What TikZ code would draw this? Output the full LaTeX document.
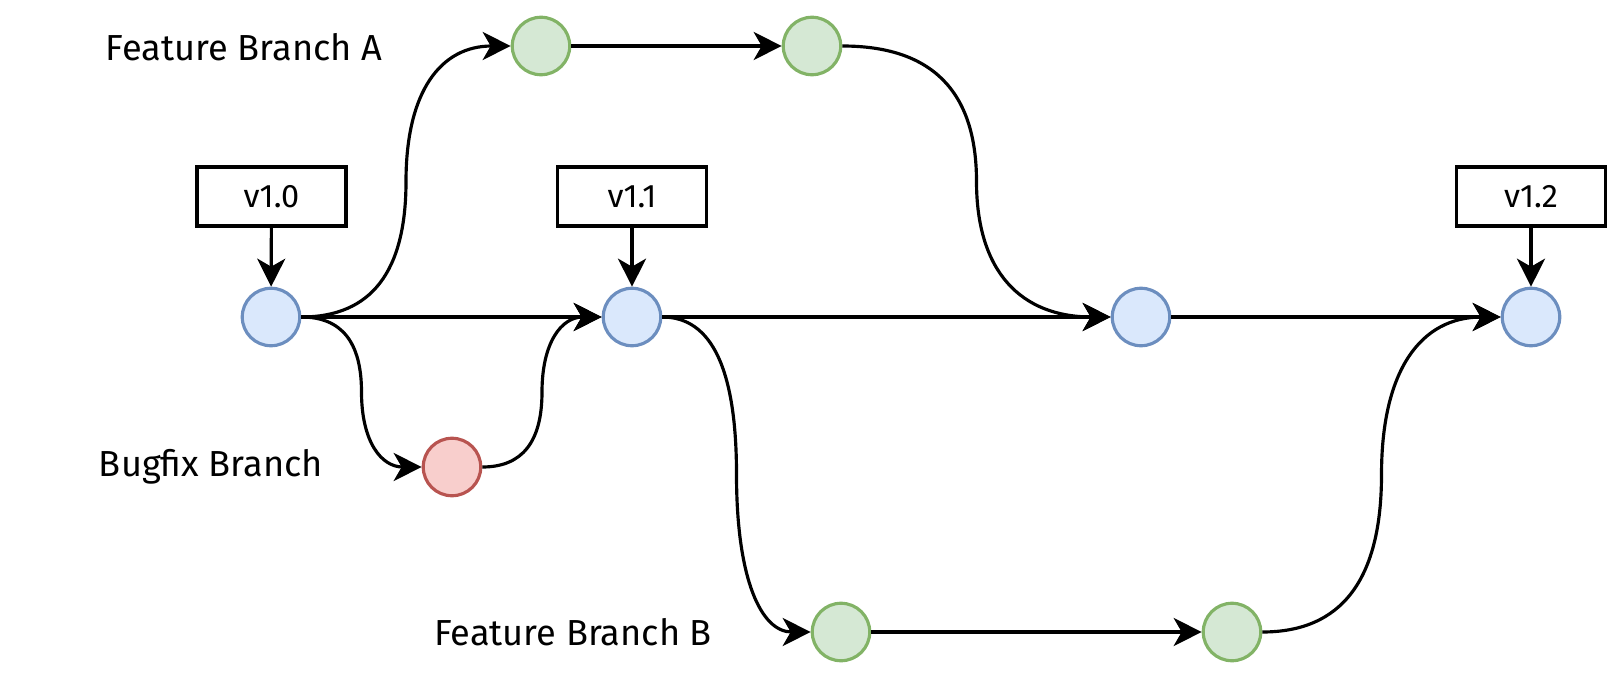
\documentclass[tikz,border=0pt]{standalone}
\usepackage{fontspec}
\setmainfont{Fira Sans}
\usetikzlibrary{arrows.meta,calc}

\definecolor{bluefill}{HTML}{DAE8FC}
\definecolor{blueline}{HTML}{6C8EBF}
\definecolor{greenfill}{HTML}{D5E8D4}
\definecolor{greenline}{HTML}{82B366}
\definecolor{redfill}{HTML}{F8CECC}
\definecolor{redline}{HTML}{B85450}

\tikzset{
  commit/.style={circle, line width=1.8pt, minimum size=1.15cm, inner sep=0pt},
  maincommit/.style={commit, draw=blueline, fill=bluefill},
  featcommit/.style={commit, draw=greenline, fill=greenfill},
  fixcommit/.style={commit, draw=redline, fill=redfill},
  tag/.style={draw, line width=1.8pt, minimum width=2.98cm, minimum height=1.18cm, font=\fontsize{18.5}{22}\selectfont},
  branchlabel/.style={font=\fontsize{20.6}{24}\selectfont},
  flow/.style={line width=1.8pt, -{Stealth[length=0.56cm, width=0.56cm, inset=0.16cm]}}
}

\newcommand{\branchcurve}[2]{%
  \coordinate (bend) at ($(#1.east)!0.5!(#2.west)$);
  \coordinate (k1) at (bend |- #1.east);
  \coordinate (k2) at (bend |- #2.west);
  \draw[flow] (#1.east) .. controls ($(#1.east)!0.667!(k1)$) and ($(bend)!0.667!(k1)$) .. (bend)
    .. controls ($(bend)!0.667!(k2)$) and ($(#2.west)!0.667!(k2)$) .. (#2.west);}

\begin{document}
\begin{tikzpicture}
\useasboundingbox (0,0) rectangle (32.16,13.56);

\node[maincommit] (c10) at (5.42,7.22) {};
\node[maincommit] (c11) at (12.64,7.22) {};
\node[maincommit] (m1) at (22.82,7.22) {};
\node[maincommit] (c12) at (30.62,7.22) {};
\node[featcommit] (a1) at (10.82,12.64) {};
\node[featcommit] (a2) at (16.24,12.64) {};
\node[fixcommit] (fix) at (9.04,4.22) {};
\node[featcommit] (b1) at (16.82,0.92) {};
\node[featcommit] (b2) at (24.64,0.92) {};

\node[tag] (t10) at (5.43,9.63) {v1.0};
\node[tag] (t11) at (12.64,9.63) {v1.1};
\node[tag] (t12) at (30.62,9.63) {v1.2};

\node[branchlabel] (la) at (4.88,12.62) {Feature Branch A};
\node[branchlabel] (lfix) at (4.22,4.22) {Bugfix Branch};
\node[branchlabel] (lb) at (11.46,0.92) {Feature Branch B};

\draw[flow] (t10) -- (c10);
\draw[flow] (t11) -- (c11);
\draw[flow] (t12) -- (c12);

\draw[flow] (c10) -- (c11);
\draw[flow] (c11) -- (m1);
\draw[flow] (m1) -- (c12);
\draw[flow] (a1) -- (a2);
\draw[flow] (b1) -- (b2);

\branchcurve{c10}{a1}
\branchcurve{a2}{m1}
\branchcurve{c10}{fix}
\branchcurve{fix}{c11}
\branchcurve{c11}{b1}
\branchcurve{b2}{c12}
\end{tikzpicture}
\end{document}
